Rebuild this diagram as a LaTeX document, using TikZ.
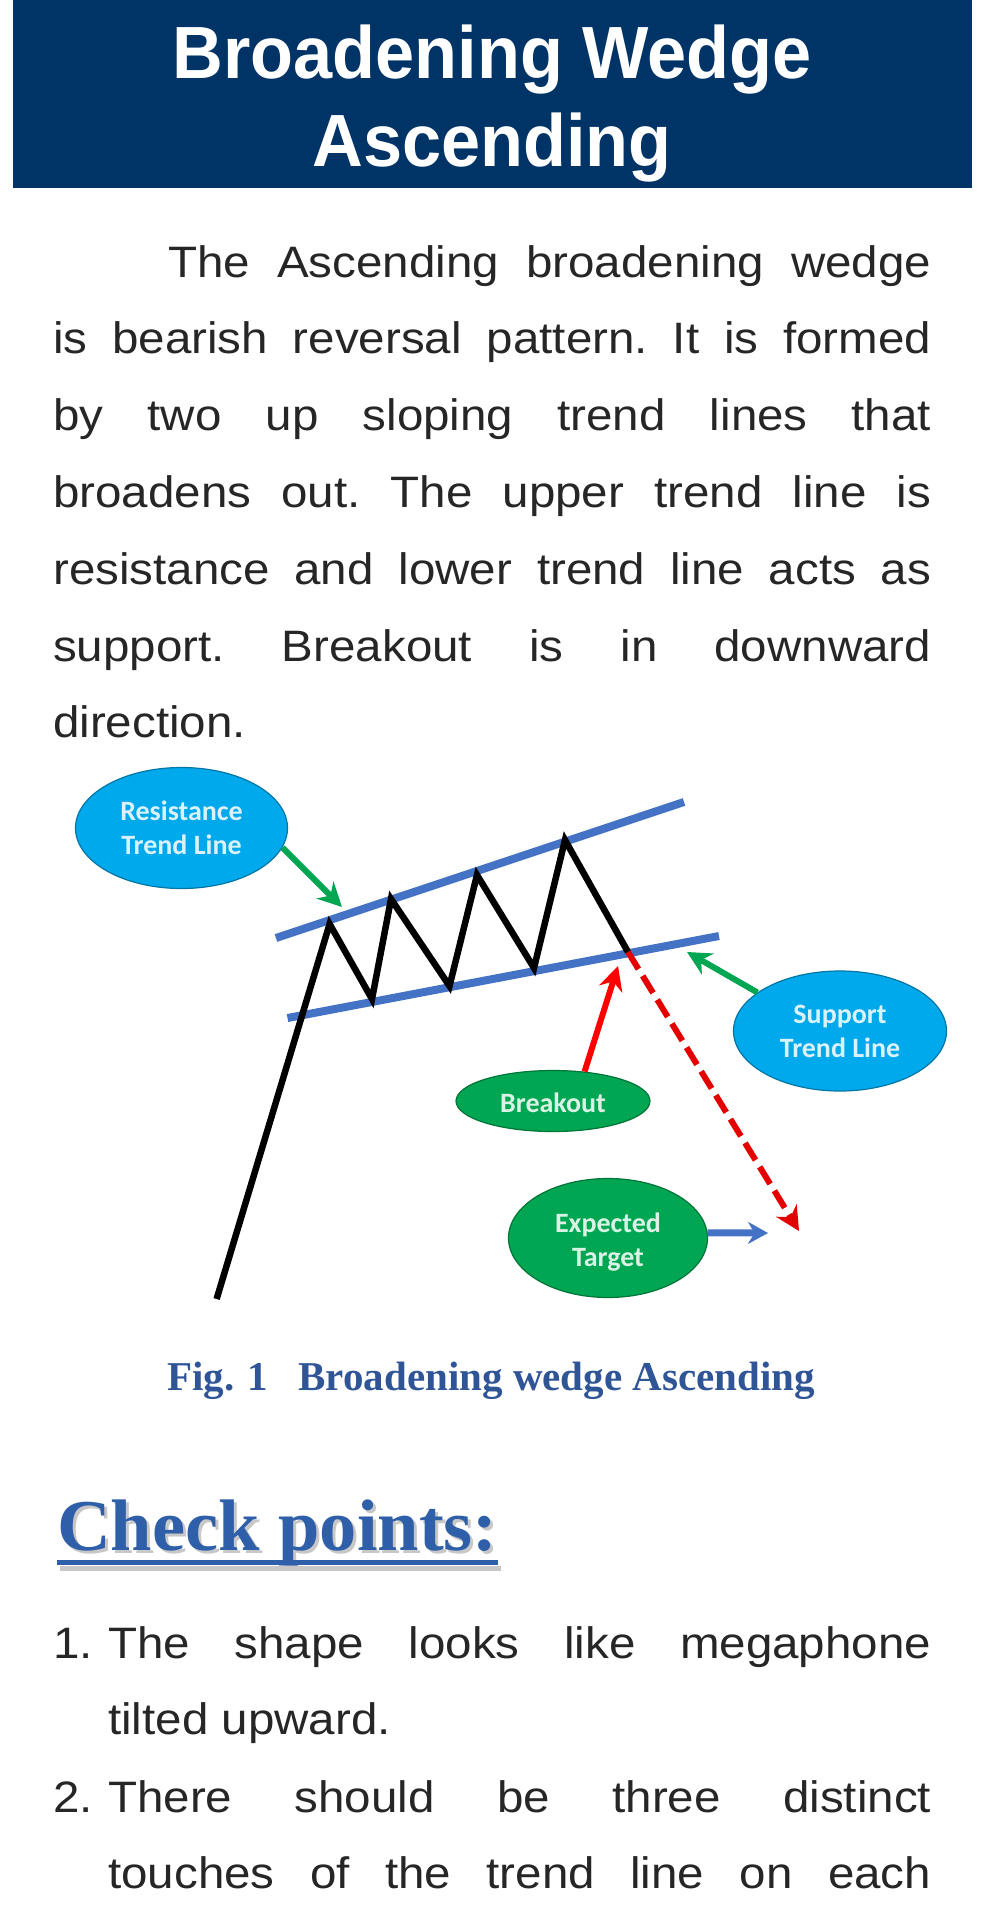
\documentclass[tikz,border=0pt]{standalone}
\usepackage{fontspec}
\setmainfont{Liberation Sans}
\newfontfamily\bodyfont[FakeStretch=1.08]{Liberation Sans}
\newfontfamily\bannerfont[FakeStretch=.95]{Liberation Sans}
\newfontfamily\calloutfont{Carlito}
\newfontfamily\captionfont{Liberation Serif}
\newfontfamily\checkfont[FakeStretch=1.02]{Liberation Serif}
\usetikzlibrary{shapes.geometric}
\usetikzlibrary{arrows.meta}
\usepackage{color}

\newcommand{\fsize}[2]{\fontsize{#1}{#2}\selectfont}
\newcommand{\lowered}[1]{\raisebox{-5pt}[18pt][6pt]{#1}}

\begin{document}
\begin{tikzpicture}
			[x=1pt,y=-1pt,
			%Styles
			callout/.style={ellipse,draw=#1!70!black,fill=#1,line width=1.2pt,inner sep=0pt,align=center,text=#1!15!white,font=\calloutfont\bfseries\fsize{28}{34}},
			body text/.style={anchor=base west,inner sep=0pt,text=bodycolor,text width=#1,align=justify,font=\bodyfont\frenchspacing\fsize{44}{76.8}},
			list number/.style={anchor=base west,inner sep=0pt,text=bodycolor,font=\bodyfont\fsize{44}{76.8}},
			banner text/.style={anchor=base,inner sep=0pt,text=white,font=\bannerfont\bfseries\fsize{74}{88}},
			trend line/.style={trendcolor,line width=8pt},
			price line/.style={black,line width=6.5pt,line join=miter},
			pointer/.style={line width=6pt,-{Stealth[length=24pt,width=24pt]}}
			]
			
			%Colors
			\definecolor{bannercolor}{HTML}{003366}
			\definecolor{bodycolor}{HTML}{262626}
			\definecolor{trendcolor}{HTML}{4472C4}
			\definecolor{skyfill}{HTML}{00A8EC}
			\definecolor{leaffill}{HTML}{00A651}
			\definecolor{arrowgreen}{HTML}{00A651}
			\definecolor{headcolor}{HTML}{2F5597}
			\definecolor{checkcolor}{HTML}{2F5FA8}
			
			\useasboundingbox (0,0) rectangle (984,1920);
			
			%The banner
			\fill[bannercolor] (13,0) rectangle (972,188);
			\node[banner text] (titleone) at (492,78) {Broadening Wedge};
			\node[banner text] (titletwo) at (492,166) {Ascending};
			
			%The paragraph
			\node[body text=878pt] (intro) at (53,277)
				{
					\hspace*{115pt}The Ascending broadening wedge\linebreak
					is bearish reversal pattern. It is formed\linebreak
					by two up sloping trend lines that\linebreak
					broadens out. The upper trend line is\linebreak
					resistance and lower trend line acts as\linebreak
					support. Breakout is in downward\linebreak
					direction.
				};
			
			%The graphic
			\coordinate (upperleft) at (276,938);
			\coordinate (upperright) at (684,802);
			\coordinate (lowerleft) at (287.5,1018);
			\coordinate (lowerright) at (719,936);
			\coordinate (start) at (216.6,1299);
			\coordinate (peakone) at (329.6,924);
			\coordinate (lowone) at (372,999);
			\coordinate (peaktwo) at (391,899);
			\coordinate (lowtwo) at (449.5,986);
			\coordinate (peakthree) at (477,875);
			\coordinate (lowthree) at (534,968);
			\coordinate (peakfour) at (565,840);
			\coordinate (breakpoint) at (628,952);
			\coordinate (targetpoint) at (799,1231);
			
			\draw[trend line] (upperleft) -- (upperright);
			\draw[trend line] (lowerleft) -- (lowerright);
			\draw[price line] (start) -- (peakone) -- (lowone) -- (peaktwo) -- (lowtwo)
				-- (peakthree) -- (lowthree) -- (peakfour) -- (breakpoint);
			\draw[pointer,red!90!black,dash pattern=on 20pt off 8pt] (breakpoint) -- (targetpoint);
			
			\node[callout=skyfill,minimum width=212pt,minimum height=121pt] (resistance) at (181.5,828) {Resistance\\Trend Line};
			\node[callout=skyfill,minimum width=213pt,minimum height=120pt] (support) at (840,1031) {Support\\Trend Line};
			\node[callout=leaffill,minimum width=194pt,minimum height=61pt] (breakout) at (553,1101) {\lowered{Breakout}};
			\node[callout=leaffill,minimum width=199pt,minimum height=119pt] (target) at (608,1238) {\lowered{Expected}\\\lowered{Target}};
			
			\coordinate (resistancetip) at (342,907);
			\coordinate (supporttip) at (687,952);
			\coordinate (breakouttip) at (618,966);
			\coordinate (targettip) at (768,1233);
			
			\draw[pointer,arrowgreen] (resistance.-11) -- (resistancetip);
			\draw[pointer,arrowgreen] (support.155.7) -- (supporttip);
			\draw[pointer,red] (breakout.43) -- (breakouttip);
			\draw[pointer,trendcolor,line width=7pt,-{Stealth[length=20pt,width=22pt]}] (target.3) -- (targettip);
			
			%The captions
			\node[anchor=base,inner sep=0pt,text=headcolor,font=\captionfont\bfseries\fsize{41}{44}] (figure) at (491,1390) {Fig. 1\hspace{30pt}Broadening wedge Ascending};
			
			\node[anchor=base west,inner sep=0pt,text=black!22,font=\checkfont\bfseries\fsize{73}{76}] (headshadow) at (60,1553) {Check points:};
			\draw[black!22,line width=5pt] ([yshift=-15pt]headshadow.base west) -- ([yshift=-15pt]headshadow.base east);
			\node[anchor=base west,inner sep=0pt,text=checkcolor,font=\checkfont\bfseries\fsize{73}{76}] (checkhead) at (57,1550) {Check points:};
			\draw[checkcolor,line width=5pt] ([yshift=-12pt]checkhead.base west) -- ([yshift=-12pt]checkhead.base east);
			
			%The list
			\node[list number] (numone) at (53,1658) {1.};
			\node[body text=823pt] (itemone) at (108,1658)
				{
					The shape looks like megaphone\linebreak
					tilted upward.
				};
			\node[list number] (numtwo) at (53,1812) {2.};
			\node[body text=823pt] (itemtwo) at (108,1812)
				{
					There should be three distinct\linebreak
					touches of the trend line on each\linebreak
				};
		\end{tikzpicture}
\end{document}
